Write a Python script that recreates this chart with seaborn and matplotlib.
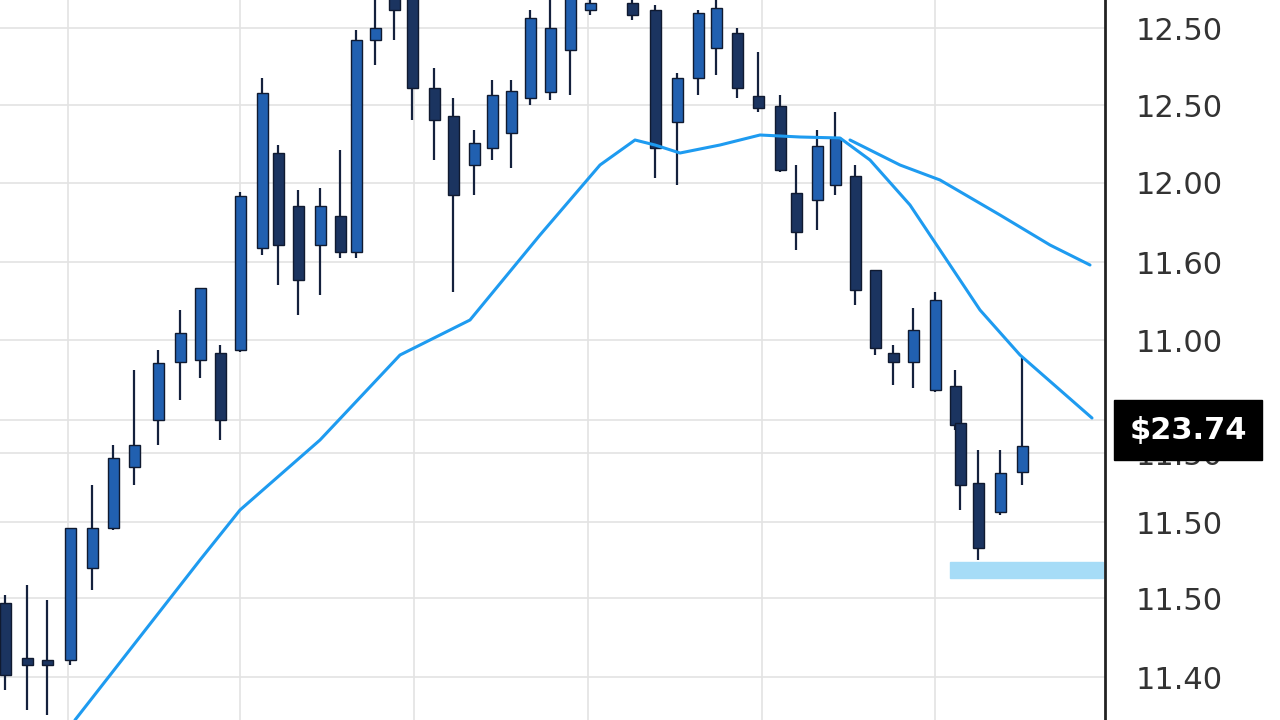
import matplotlib
matplotlib.use("Agg")
import numpy as np
import pandas as pd
import matplotlib.pyplot as plt
import seaborn as sns
from matplotlib.patches import Rectangle

def a_precio(v):
    return 11.0 + (720 - np.asarray(v, dtype=float)) / 390.0

velas_x = [5, 27, 47, 70, 92, 113, 134, 158, 180, 200, 220, 240, 262, 278, 298, 320, 340, 356,
           375, 394, 412, 434, 453, 474, 492, 511, 530, 550, 570, 590, 632, 655, 677, 698, 716,
           737, 758, 780, 796, 817, 835, 855, 875, 893, 913, 935, 955, 960, 978, 1000, 1022]
apertura = [605, 660, 662, 660, 568, 528, 467, 420, 362, 360, 355, 350, 248, 155, 208, 245, 218, 252,
            40, 0, 0, 90, 118, 165, 148, 133, 98, 92, 50, 10, 5, 12, 122, 78, 48,
            35, 98, 108, 195, 200, 185, 178, 272, 355, 362, 390, 388, 425, 485, 512, 472]
cierre = [675, 665, 665, 530, 530, 460, 447, 365, 335, 290, 420, 198, 95, 245, 280, 208, 252, 42,
          30, 10, 88, 120, 195, 145, 97, 93, 20, 30, 0, 5, 15, 148, 80, 15, 10,
          88, 108, 170, 232, 148, 140, 290, 348, 362, 332, 302, 425, 485, 548, 475, 448]
maximo = [595, 585, 600, 528, 485, 445, 370, 350, 310, 290, 345, 192, 78, 145, 190, 188, 150, 30,
          0, 0, 0, 68, 98, 130, 80, 80, 10, 0, 0, 0, 0, 5, 73, 10, 0,
          28, 52, 95, 165, 130, 112, 165, 270, 345, 308, 292, 370, 425, 450, 450, 358]
minimo = [690, 710, 715, 665, 590, 530, 485, 445, 400, 378, 440, 352, 255, 285, 315, 295, 258, 258,
          65, 40, 120, 160, 292, 195, 160, 168, 105, 100, 95, 15, 20, 178, 185, 95, 75,
          98, 112, 172, 250, 230, 195, 305, 355, 385, 388, 392, 430, 510, 560, 515, 485]

media_x = [75, 200, 240, 320, 400, 470, 540, 600, 635, 655, 680, 720, 760, 800, 840, 870, 910,
           940, 980, 1020, 1060, 1092]
media_y = [720, 560, 510, 440, 355, 320, 235, 165, 140, 145, 153, 145, 135, 137, 138, 160, 205,
           250, 310, 355, 390, 418]
media2_x = [850, 900, 940, 1000, 1050, 1090]
media2_y = [140, 165, 180, 215, 245, 265]

ticks_px = [28, 105, 183, 262, 340, 420, 453, 522, 598, 677]
ticks_txt = ["12.50", "12.50", "12.00", "11.60", "11.00", "11.60", "11.50", "11.50", "11.50", "11.40"]
precio_actual = "$23.74"

sns.set_style("white")
fig = plt.figure(figsize=(12.8, 7.2), dpi=100)
ax = fig.add_axes([0, 0, 1105 / 1280, 1])

ab, ci, hi, lo = a_precio(apertura), a_precio(cierre), a_precio(maximo), a_precio(minimo)
sube = ci >= ab
ax.vlines(velas_x, lo, hi, color="#14213d", lw=1.6, zorder=3)
colores = np.where(sube, "#2160b0", "#1b3460")
ax.bar(velas_x, np.abs(ci - ab) + 0.004, bottom=np.minimum(ab, ci), width=11,
       color=colores, edgecolor="#101a30", linewidth=1, zorder=4)

df1 = pd.DataFrame({"x": media_x, "y": a_precio(media_y)})
df2 = pd.DataFrame({"x": media2_x, "y": a_precio(media2_y)})
sns.lineplot(data=df1, x="x", y="y", ax=ax, color="#1e9bf0", lw=2.2, zorder=5)
sns.lineplot(data=df2, x="x", y="y", ax=ax, color="#1e9bf0", lw=2.2, zorder=5)

ax.add_patch(Rectangle((950, a_precio(578)), 153, a_precio(562) - a_precio(578),
                       color="#a6dcf7", zorder=2))

ax.set_xlim(0, 1105)
ax.set_ylim(a_precio(720), a_precio(0))
for gx in [68, 240, 414, 588, 762, 935]:
    ax.axvline(gx, color="#e3e3e3", lw=1.2, zorder=0)
for ty in ticks_px:
    ax.axhline(a_precio(ty), color="#e3e3e3", lw=1.2, zorder=0)

ax.yaxis.tick_right()
ax.set_yticks(a_precio(ticks_px))
ax.set_yticklabels(ticks_txt, fontsize=22, color="#333333")
ax.tick_params(axis="y", length=0, pad=22)
ax.set_xticks([])
ax.set_xlabel("")
ax.set_ylabel("")
for s in ["top", "bottom", "left"]:
    ax.spines[s].set_visible(False)
ax.spines["right"].set_color("#222222")
ax.spines["right"].set_linewidth(2)

fig.text(1188 / 1280, 1 - 430 / 720, precio_actual, ha="center", va="center", fontsize=22,
         fontweight="bold", color="white", zorder=10,
         bbox=dict(boxstyle="square,pad=0.5", facecolor="black", edgecolor="black"))

fig.savefig("out.png", dpi=100)
